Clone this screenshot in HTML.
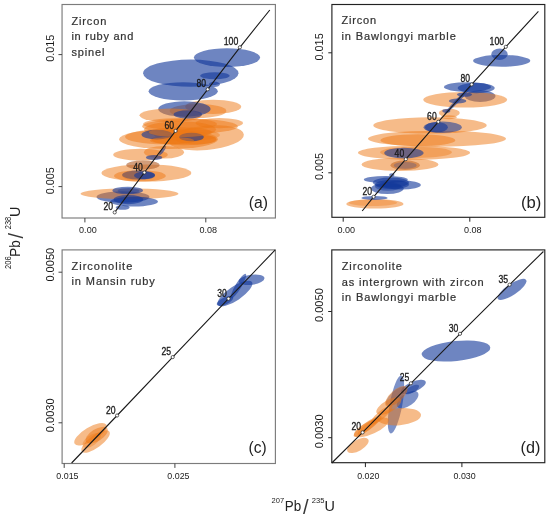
<!DOCTYPE html>
<html lang="en"><head><meta charset="utf-8"><title>Concordia diagrams</title>
<style>
html,body{margin:0;padding:0;background:#fff;}
svg{display:block;font-family:"Liberation Sans",sans-serif;}
</style></head><body>
<svg width="550" height="518" viewBox="0 0 550 518">
<rect x="0" y="0" width="550" height="518" fill="#fff"/>
<rect x="62.05" y="4.5" width="213.35" height="213.5" fill="none" stroke="#7c7c7c" stroke-width="1.15"/>
<line x1="58.449999999999996" y1="54.6" x2="62.05" y2="54.6" stroke="#444" stroke-width="1"/>
<text x="53.7" y="61.8" font-size="10.5" text-anchor="start" fill="#1a1a1a" textLength="27.2" lengthAdjust="spacingAndGlyphs" transform="rotate(-90 53.7 61.8)">0.015</text>
<line x1="58.449999999999996" y1="186.6" x2="62.05" y2="186.6" stroke="#444" stroke-width="1"/>
<text x="53.7" y="194.3" font-size="10.5" text-anchor="start" fill="#1a1a1a" textLength="27.2" lengthAdjust="spacingAndGlyphs" transform="rotate(-90 53.7 194.3)">0.005</text>
<line x1="84.9" y1="218.0" x2="84.9" y2="222.4" stroke="#444" stroke-width="1"/>
<text x="79.1" y="232.8" font-size="9.5" text-anchor="start" fill="#1a1a1a" textLength="17.6" lengthAdjust="spacingAndGlyphs">0.00</text>
<line x1="205.8" y1="218.0" x2="205.8" y2="222.4" stroke="#444" stroke-width="1"/>
<text x="199.5" y="232.8" font-size="9.5" text-anchor="start" fill="#1a1a1a" textLength="17.6" lengthAdjust="spacingAndGlyphs">0.08</text>
<ellipse cx="123" cy="197" rx="26.5" ry="5.7" fill="rgb(18,56,154)" fill-opacity="0.61"/>
<ellipse cx="129.5" cy="193.8" rx="48.9" ry="5.4" fill="rgb(238,120,20)" fill-opacity="0.5"/>
<ellipse cx="127.7" cy="190.5" rx="15.3" ry="3.8" fill="rgb(18,56,154)" fill-opacity="0.61"/>
<ellipse cx="128.5" cy="190.8" rx="11" ry="2.8" fill="rgb(18,56,154)" fill-opacity="0.35"/>
<ellipse cx="134.1" cy="201.6" rx="23.9" ry="4.9" fill="rgb(18,56,154)" fill-opacity="0.61"/>
<ellipse cx="128.4" cy="199.6" rx="14.8" ry="4.6" fill="rgb(18,56,154)" fill-opacity="0.61"/>
<ellipse cx="122.7" cy="207.5" rx="6.8" ry="2.3" fill="rgb(18,56,154)" fill-opacity="0.61"/>
<ellipse cx="146.4" cy="173" rx="45" ry="8.6" fill="rgb(238,120,20)" fill-opacity="0.5"/>
<ellipse cx="139.9" cy="175.9" rx="25.9" ry="5.7" fill="rgb(238,120,20)" fill-opacity="0.5"/>
<ellipse cx="142.9" cy="165" rx="16.6" ry="4.5" fill="rgb(18,56,154)" fill-opacity="0.3"/>
<ellipse cx="142.9" cy="165" rx="16.6" ry="4.5" fill="rgb(238,120,20)" fill-opacity="0.5"/>
<ellipse cx="138.6" cy="175" rx="16.4" ry="4.5" fill="rgb(18,56,154)" fill-opacity="0.61"/>
<ellipse cx="132" cy="175.5" rx="10" ry="4.5" fill="rgb(238,120,20)" fill-opacity="0.35"/>
<ellipse cx="144.5" cy="175.5" rx="10.5" ry="3.8" fill="rgb(18,56,154)" fill-opacity="0.61"/>
<ellipse cx="140.5" cy="154.7" rx="27.3" ry="5.9" fill="rgb(238,120,20)" fill-opacity="0.5"/>
<ellipse cx="164" cy="152.3" rx="20" ry="6.3" fill="rgb(238,120,20)" fill-opacity="0.5"/>
<ellipse cx="154.1" cy="157.5" rx="8.2" ry="2.5" fill="rgb(18,56,154)" fill-opacity="0.61"/>
<ellipse cx="162.6" cy="150.5" rx="5.5" ry="1.5" fill="rgb(18,56,154)" fill-opacity="0.61" transform="rotate(-55 162.6 150.5)"/>
<ellipse cx="168.5" cy="139.3" rx="49.3" ry="9.8" fill="rgb(238,120,20)" fill-opacity="0.5"/>
<ellipse cx="206" cy="137.8" rx="38" ry="12.2" fill="rgb(238,120,20)" fill-opacity="0.5" transform="rotate(-5 206 137.8)"/>
<ellipse cx="165" cy="136.8" rx="40" ry="7.5" fill="rgb(238,120,20)" fill-opacity="0.5"/>
<ellipse cx="190" cy="126.3" rx="48" ry="7.5" fill="rgb(238,120,20)" fill-opacity="0.5"/>
<ellipse cx="196" cy="139.4" rx="20" ry="5" fill="rgb(238,120,20)" fill-opacity="0.5"/>
<ellipse cx="219.3" cy="123.1" rx="23.8" ry="5.1" fill="rgb(238,120,20)" fill-opacity="0.5"/>
<ellipse cx="213.2" cy="106.8" rx="28" ry="7.1" fill="rgb(238,120,20)" fill-opacity="0.5"/>
<ellipse cx="198" cy="111" rx="28.4" ry="7" fill="rgb(238,120,20)" fill-opacity="0.5"/>
<ellipse cx="180" cy="124" rx="37" ry="6" fill="rgb(238,120,20)" fill-opacity="0.5"/>
<ellipse cx="180" cy="129.5" rx="36" ry="8" fill="rgb(238,120,20)" fill-opacity="0.5"/>
<ellipse cx="187" cy="135" rx="33" ry="6" fill="rgb(238,120,20)" fill-opacity="0.4"/>
<ellipse cx="184.4" cy="109" rx="26.2" ry="7.7" fill="rgb(18,56,154)" fill-opacity="0.61"/>
<ellipse cx="184.1" cy="139.5" rx="32.7" ry="5.7" fill="rgb(238,120,20)" fill-opacity="0.5"/>
<ellipse cx="157" cy="134.6" rx="15.5" ry="4.9" fill="rgb(18,56,154)" fill-opacity="0.61"/>
<ellipse cx="191.5" cy="137.0" rx="12.3" ry="4.3" fill="rgb(18,56,154)" fill-opacity="0.61"/>
<ellipse cx="170.5" cy="115.3" rx="31" ry="6.8" fill="rgb(238,120,20)" fill-opacity="0.5"/>
<ellipse cx="187.8" cy="114.4" rx="14.2" ry="4.1" fill="rgb(18,56,154)" fill-opacity="0.61"/>
<ellipse cx="180.3" cy="132.2" rx="31.5" ry="4.9" fill="rgb(238,120,20)" fill-opacity="0.5"/>
<ellipse cx="172" cy="140.5" rx="22" ry="3.6" fill="rgb(238,120,20)" fill-opacity="0.5"/>
<ellipse cx="227" cy="57.6" rx="33.1" ry="9.4" fill="rgb(18,56,154)" fill-opacity="0.61"/>
<ellipse cx="190.8" cy="73.2" rx="47.7" ry="13.6" fill="rgb(18,56,154)" fill-opacity="0.61"/>
<ellipse cx="214.9" cy="75.8" rx="14.7" ry="3.5" fill="rgb(18,56,154)" fill-opacity="0.61"/>
<ellipse cx="183.2" cy="91.3" rx="34.6" ry="9.1" fill="rgb(18,56,154)" fill-opacity="0.61"/>
<ellipse cx="214.4" cy="84.3" rx="5.5" ry="2.7" fill="rgb(18,56,154)" fill-opacity="0.61"/>
<polyline points="114.7,212.4 144.4,172.5 175.6,130.9 207.7,89.3 239.9,47.3 269.8,10" fill="none" stroke="#1a1a1a" stroke-width="1.1"/>
<circle cx="114.7" cy="212.4" r="1.6" fill="#fff" stroke="#2a2a2a" stroke-width="0.75"/>
<circle cx="144.4" cy="172.5" r="1.6" fill="#fff" stroke="#2a2a2a" stroke-width="0.75"/>
<circle cx="175.6" cy="130.9" r="1.6" fill="#fff" stroke="#2a2a2a" stroke-width="0.75"/>
<circle cx="207.7" cy="89.3" r="1.6" fill="#fff" stroke="#2a2a2a" stroke-width="0.75"/>
<circle cx="239.9" cy="47.3" r="1.6" fill="#fff" stroke="#2a2a2a" stroke-width="0.75"/>
<text x="113.10000000000001" y="210.4" font-size="10.3" text-anchor="end" fill="#1a1a1a" textLength="9.6" lengthAdjust="spacingAndGlyphs" stroke="#1a1a1a" stroke-width="0.32">20</text>
<text x="142.8" y="170.5" font-size="10.3" text-anchor="end" fill="#1a1a1a" textLength="9.6" lengthAdjust="spacingAndGlyphs" stroke="#1a1a1a" stroke-width="0.32">40</text>
<text x="174.0" y="128.9" font-size="10.3" text-anchor="end" fill="#1a1a1a" textLength="9.6" lengthAdjust="spacingAndGlyphs" stroke="#1a1a1a" stroke-width="0.32">60</text>
<text x="206.1" y="87.3" font-size="10.3" text-anchor="end" fill="#1a1a1a" textLength="9.6" lengthAdjust="spacingAndGlyphs" stroke="#1a1a1a" stroke-width="0.32">80</text>
<text x="238.3" y="45.3" font-size="10.3" text-anchor="end" fill="#1a1a1a" textLength="14.6" lengthAdjust="spacingAndGlyphs" stroke="#1a1a1a" stroke-width="0.32">100</text>
<text x="71.4" y="24.5" font-size="11" text-anchor="start" fill="#333" textLength="34.9" lengthAdjust="spacing" stroke="#333" stroke-width="0.22">Zircon</text>
<text x="71.4" y="40.1" font-size="11" text-anchor="start" fill="#333" textLength="61.9" lengthAdjust="spacing" stroke="#333" stroke-width="0.22">in ruby and</text>
<text x="71.4" y="55.8" font-size="11" text-anchor="start" fill="#333" textLength="33" lengthAdjust="spacing" stroke="#333" stroke-width="0.22">spinel</text>
<text x="248.8" y="208.1" font-size="16" text-anchor="start" fill="#222" textLength="19.2" lengthAdjust="spacingAndGlyphs">(a)</text>
<rect x="331.9" y="4.5" width="212.9" height="212.8" fill="none" stroke="#222" stroke-width="1.15"/>
<line x1="328.29999999999995" y1="52.8" x2="331.9" y2="52.8" stroke="#222" stroke-width="1"/>
<text x="323.3" y="60.5" font-size="10.5" text-anchor="start" fill="#1a1a1a" textLength="27.2" lengthAdjust="spacingAndGlyphs" transform="rotate(-90 323.3 60.5)">0.015</text>
<line x1="328.29999999999995" y1="172.8" x2="331.9" y2="172.8" stroke="#222" stroke-width="1"/>
<text x="323.3" y="180.1" font-size="10.5" text-anchor="start" fill="#1a1a1a" textLength="27.2" lengthAdjust="spacingAndGlyphs" transform="rotate(-90 323.3 180.1)">0.005</text>
<line x1="343.2" y1="217.3" x2="343.2" y2="221.70000000000002" stroke="#222" stroke-width="1"/>
<text x="337.5" y="232.7" font-size="9.5" text-anchor="start" fill="#1a1a1a" textLength="17.6" lengthAdjust="spacingAndGlyphs">0.00</text>
<line x1="469.8" y1="217.3" x2="469.8" y2="221.70000000000002" stroke="#222" stroke-width="1"/>
<text x="463.9" y="232.7" font-size="9.5" text-anchor="start" fill="#1a1a1a" textLength="17.6" lengthAdjust="spacingAndGlyphs">0.08</text>
<ellipse cx="374.9" cy="203.9" rx="28.6" ry="4.7" fill="rgb(238,120,20)" fill-opacity="0.5"/>
<ellipse cx="373" cy="202.8" rx="24" ry="3.2" fill="rgb(238,120,20)" fill-opacity="0.35"/>
<ellipse cx="405.2" cy="165.2" rx="14.6" ry="4.7" fill="rgb(18,56,154)" fill-opacity="0.35"/>
<ellipse cx="400" cy="164.4" rx="38.5" ry="6.5" fill="rgb(238,120,20)" fill-opacity="0.5"/>
<ellipse cx="414" cy="152.7" rx="56" ry="7" fill="rgb(238,120,20)" fill-opacity="0.5"/>
<ellipse cx="416" cy="152.3" rx="36" ry="5.6" fill="rgb(238,120,20)" fill-opacity="0.4"/>
<ellipse cx="437" cy="138.7" rx="69" ry="8.0" fill="rgb(238,120,20)" fill-opacity="0.5"/>
<ellipse cx="417.9" cy="140.3" rx="37.5" ry="6" fill="rgb(238,120,20)" fill-opacity="0.5"/>
<ellipse cx="430" cy="125.4" rx="56.7" ry="8.1" fill="rgb(238,120,20)" fill-opacity="0.5"/>
<ellipse cx="405.2" cy="165.2" rx="14.6" ry="4.7" fill="rgb(238,120,20)" fill-opacity="0.4"/>
<ellipse cx="405.2" cy="165.4" rx="11.5" ry="3.4" fill="rgb(18,56,154)" fill-opacity="0.25"/>
<ellipse cx="403.9" cy="153.1" rx="19.7" ry="5.3" fill="rgb(18,56,154)" fill-opacity="0.6"/>
<ellipse cx="442.7" cy="127.3" rx="19.1" ry="5.7" fill="rgb(18,56,154)" fill-opacity="0.55"/>
<ellipse cx="436.4" cy="127.3" rx="11.5" ry="5.2" fill="rgb(18,56,154)" fill-opacity="0.61"/>
<ellipse cx="385.8" cy="179.5" rx="22" ry="3.6" fill="rgb(18,56,154)" fill-opacity="0.61"/>
<ellipse cx="401.3" cy="185" rx="19.5" ry="4.5" fill="rgb(18,56,154)" fill-opacity="0.61"/>
<ellipse cx="390.9" cy="182.6" rx="18" ry="5" fill="rgb(18,56,154)" fill-opacity="0.61"/>
<ellipse cx="387.3" cy="188.6" rx="16.4" ry="5.5" fill="rgb(18,56,154)" fill-opacity="0.61"/>
<ellipse cx="392" cy="184.5" rx="17" ry="4.6" fill="rgb(18,56,154)" fill-opacity="0.61"/>
<ellipse cx="388" cy="186.5" rx="13" ry="4.2" fill="rgb(18,56,154)" fill-opacity="0.5"/>
<ellipse cx="374.5" cy="197.9" rx="13" ry="2" fill="rgb(18,56,154)" fill-opacity="0.61"/>
<ellipse cx="391.8" cy="175" rx="2.7" ry="1.8" fill="rgb(18,56,154)" fill-opacity="0.61"/>
<ellipse cx="480.2" cy="96.1" rx="15.3" ry="5.8" fill="rgb(18,56,154)" fill-opacity="0.61"/>
<ellipse cx="465.2" cy="99.7" rx="42" ry="7.8" fill="rgb(238,120,20)" fill-opacity="0.5"/>
<ellipse cx="449.3" cy="113" rx="10.5" ry="4.2" fill="rgb(238,120,20)" fill-opacity="0.5"/>
<ellipse cx="448.9" cy="117.2" rx="8" ry="2" fill="rgb(238,120,20)" fill-opacity="0.5"/>
<ellipse cx="467.5" cy="87" rx="23.6" ry="4.8" fill="rgb(18,56,154)" fill-opacity="0.61"/>
<ellipse cx="476.2" cy="88.1" rx="18.5" ry="5.1" fill="rgb(18,56,154)" fill-opacity="0.61"/>
<ellipse cx="457.6" cy="100.9" rx="8.7" ry="2.5" fill="rgb(18,56,154)" fill-opacity="0.61"/>
<ellipse cx="464.5" cy="94.6" rx="7.6" ry="2.2" fill="rgb(18,56,154)" fill-opacity="0.61"/>
<ellipse cx="446.3" cy="110.9" rx="4" ry="1.8" fill="rgb(18,56,154)" fill-opacity="0.61"/>
<ellipse cx="457.6" cy="100.5" rx="19" ry="1.8" fill="rgb(18,56,154)" fill-opacity="0.61" transform="rotate(-46.5 457.6 100.5)"/>
<ellipse cx="501.7" cy="60.8" rx="28.6" ry="5.9" fill="rgb(18,56,154)" fill-opacity="0.61"/>
<ellipse cx="499.5" cy="54.3" rx="8.2" ry="5.7" fill="rgb(18,56,154)" fill-opacity="0.61"/>
<polyline points="362.2,211 373.6,196.8 405.8,159.2 438.3,121.8 471.7,84.4 505.8,46.8 538.4,11.4" fill="none" stroke="#1a1a1a" stroke-width="1.1"/>
<circle cx="373.6" cy="196.8" r="1.6" fill="#fff" stroke="#2a2a2a" stroke-width="0.75"/>
<circle cx="405.8" cy="159.2" r="1.6" fill="#fff" stroke="#2a2a2a" stroke-width="0.75"/>
<circle cx="438.3" cy="121.8" r="1.6" fill="#fff" stroke="#2a2a2a" stroke-width="0.75"/>
<circle cx="471.7" cy="84.4" r="1.6" fill="#fff" stroke="#2a2a2a" stroke-width="0.75"/>
<circle cx="505.8" cy="46.8" r="1.6" fill="#fff" stroke="#2a2a2a" stroke-width="0.75"/>
<text x="372.0" y="194.8" font-size="10.3" text-anchor="end" fill="#1a1a1a" textLength="9.6" lengthAdjust="spacingAndGlyphs" stroke="#1a1a1a" stroke-width="0.32">20</text>
<text x="404.2" y="157.2" font-size="10.3" text-anchor="end" fill="#1a1a1a" textLength="9.6" lengthAdjust="spacingAndGlyphs" stroke="#1a1a1a" stroke-width="0.32">40</text>
<text x="436.7" y="119.8" font-size="10.3" text-anchor="end" fill="#1a1a1a" textLength="9.6" lengthAdjust="spacingAndGlyphs" stroke="#1a1a1a" stroke-width="0.32">60</text>
<text x="470.09999999999997" y="82.4" font-size="10.3" text-anchor="end" fill="#1a1a1a" textLength="9.6" lengthAdjust="spacingAndGlyphs" stroke="#1a1a1a" stroke-width="0.32">80</text>
<text x="504.2" y="44.8" font-size="10.3" text-anchor="end" fill="#1a1a1a" textLength="14.6" lengthAdjust="spacingAndGlyphs" stroke="#1a1a1a" stroke-width="0.32">100</text>
<text x="341.5" y="24.4" font-size="11" text-anchor="start" fill="#333" textLength="34.5" lengthAdjust="spacing" stroke="#333" stroke-width="0.22">Zircon</text>
<text x="341.5" y="40.2" font-size="11" text-anchor="start" fill="#333" textLength="114.3" lengthAdjust="spacing" stroke="#333" stroke-width="0.22">in Bawlongyi marble</text>
<text x="521" y="208.1" font-size="16" text-anchor="start" fill="#222" textLength="20.3" lengthAdjust="spacingAndGlyphs">(b)</text>
<rect x="62.1" y="249.9" width="213.3" height="213.6" fill="none" stroke="#7c7c7c" stroke-width="1.15"/>
<line x1="58.5" y1="272.2" x2="62.1" y2="272.2" stroke="#444" stroke-width="1"/>
<text x="53.8" y="281.6" font-size="10.5" text-anchor="start" fill="#1a1a1a" textLength="33.8" lengthAdjust="spacingAndGlyphs" transform="rotate(-90 53.8 281.6)">0.0050</text>
<line x1="58.5" y1="422.8" x2="62.1" y2="422.8" stroke="#444" stroke-width="1"/>
<text x="53.8" y="432.2" font-size="10.5" text-anchor="start" fill="#1a1a1a" textLength="33.8" lengthAdjust="spacingAndGlyphs" transform="rotate(-90 53.8 432.2)">0.0030</text>
<line x1="64.2" y1="463.5" x2="64.2" y2="467.9" stroke="#444" stroke-width="1"/>
<text x="56.3" y="479" font-size="9.5" text-anchor="start" fill="#1a1a1a" textLength="22.2" lengthAdjust="spacingAndGlyphs">0.015</text>
<line x1="174.9" y1="463.5" x2="174.9" y2="467.9" stroke="#444" stroke-width="1"/>
<text x="167.3" y="479" font-size="9.5" text-anchor="start" fill="#1a1a1a" textLength="22.2" lengthAdjust="spacingAndGlyphs">0.025</text>
<ellipse cx="234.9" cy="293.6" rx="20.6" ry="7" fill="rgb(18,56,154)" fill-opacity="0.61" transform="rotate(-34 234.9 293.6)"/>
<ellipse cx="251.6" cy="279.8" rx="13" ry="5" fill="rgb(18,56,154)" fill-opacity="0.61" transform="rotate(-8 251.6 279.8)"/>
<ellipse cx="238.5" cy="285.9" rx="14" ry="3" fill="rgb(18,56,154)" fill-opacity="0.61" transform="rotate(-59 238.5 285.9)"/>
<ellipse cx="225" cy="301" rx="9" ry="3.5" fill="rgb(18,56,154)" fill-opacity="0.61" transform="rotate(-25 225 301)"/>
<ellipse cx="90.5" cy="434.2" rx="18.5" ry="7" fill="rgb(238,120,20)" fill-opacity="0.5" transform="rotate(-31 90.5 434.2)"/>
<ellipse cx="95.6" cy="441.5" rx="17" ry="6.3" fill="rgb(238,120,20)" fill-opacity="0.5" transform="rotate(-36 95.6 441.5)"/>
<ellipse cx="96.7" cy="435.2" rx="12.5" ry="6" fill="rgb(238,120,20)" fill-opacity="0.5" transform="rotate(-32 96.7 435.2)"/>
<ellipse cx="91.5" cy="440.5" rx="10.5" ry="5.2" fill="rgb(238,120,20)" fill-opacity="0.35" transform="rotate(-35 91.5 440.5)"/>
<polyline points="71.6,463 117.1,415.5 172.7,357.1 228.5,298.7 275.2,249.9" fill="none" stroke="#1a1a1a" stroke-width="1.1"/>
<circle cx="117.1" cy="415.5" r="1.6" fill="#fff" stroke="#2a2a2a" stroke-width="0.75"/>
<circle cx="172.7" cy="357.1" r="1.6" fill="#fff" stroke="#2a2a2a" stroke-width="0.75"/>
<circle cx="228.5" cy="298.7" r="1.6" fill="#fff" stroke="#2a2a2a" stroke-width="0.75"/>
<text x="115.5" y="413.5" font-size="10.3" text-anchor="end" fill="#1a1a1a" textLength="9.6" lengthAdjust="spacingAndGlyphs" stroke="#1a1a1a" stroke-width="0.32">20</text>
<text x="171.1" y="355.1" font-size="10.3" text-anchor="end" fill="#1a1a1a" textLength="9.6" lengthAdjust="spacingAndGlyphs" stroke="#1a1a1a" stroke-width="0.32">25</text>
<text x="226.9" y="296.7" font-size="10.3" text-anchor="end" fill="#1a1a1a" textLength="9.6" lengthAdjust="spacingAndGlyphs" stroke="#1a1a1a" stroke-width="0.32">30</text>
<text x="71.5" y="269.5" font-size="11" text-anchor="start" fill="#333" textLength="60.8" lengthAdjust="spacing" stroke="#333" stroke-width="0.22">Zirconolite</text>
<text x="71.5" y="285.2" font-size="11" text-anchor="start" fill="#333" textLength="83.3" lengthAdjust="spacing" stroke="#333" stroke-width="0.22">in Mansin ruby</text>
<text x="248.6" y="453.1" font-size="16" text-anchor="start" fill="#222" textLength="18.1" lengthAdjust="spacingAndGlyphs">(c)</text>
<rect x="331.8" y="249.9" width="213.0" height="212.8" fill="none" stroke="#222" stroke-width="1.15"/>
<line x1="328.2" y1="311.5" x2="331.8" y2="311.5" stroke="#222" stroke-width="1"/>
<text x="323.3" y="322.0" font-size="10.5" text-anchor="start" fill="#1a1a1a" textLength="33.8" lengthAdjust="spacingAndGlyphs" transform="rotate(-90 323.3 322.0)">0.0050</text>
<line x1="328.2" y1="437.7" x2="331.8" y2="437.7" stroke="#222" stroke-width="1"/>
<text x="323.3" y="448.2" font-size="10.5" text-anchor="start" fill="#1a1a1a" textLength="33.8" lengthAdjust="spacingAndGlyphs" transform="rotate(-90 323.3 448.2)">0.0030</text>
<line x1="365.4" y1="462.7" x2="365.4" y2="467.09999999999997" stroke="#222" stroke-width="1"/>
<text x="357.2" y="479" font-size="9.5" text-anchor="start" fill="#1a1a1a" textLength="22.2" lengthAdjust="spacingAndGlyphs">0.020</text>
<line x1="461.9" y1="462.7" x2="461.9" y2="467.09999999999997" stroke="#222" stroke-width="1"/>
<text x="453.5" y="479" font-size="9.5" text-anchor="start" fill="#1a1a1a" textLength="22.2" lengthAdjust="spacingAndGlyphs">0.030</text>
<ellipse cx="396" cy="404.5" rx="29.4" ry="6.3" fill="rgb(18,56,154)" fill-opacity="0.55" transform="rotate(-79.5 396 404.5)"/>
<ellipse cx="413.3" cy="386.9" rx="13.5" ry="5" fill="rgb(18,56,154)" fill-opacity="0.61" transform="rotate(-24 413.3 386.9)"/>
<ellipse cx="407.6" cy="399.7" rx="12.5" ry="6.3" fill="rgb(18,56,154)" fill-opacity="0.55" transform="rotate(-35 407.6 399.7)"/>
<ellipse cx="396.3" cy="396.3" rx="13" ry="5.5" fill="rgb(18,56,154)" fill-opacity="0.4" transform="rotate(-42 396.3 396.3)"/>
<ellipse cx="412" cy="389.5" rx="8" ry="3.2" fill="rgb(18,56,154)" fill-opacity="0.5" transform="rotate(-30 412 389.5)"/>
<ellipse cx="399.1" cy="416.7" rx="22" ry="8.5" fill="rgb(238,120,20)" fill-opacity="0.5" transform="rotate(-5 399.1 416.7)"/>
<ellipse cx="388.8" cy="406.1" rx="14" ry="6" fill="rgb(238,120,20)" fill-opacity="0.5" transform="rotate(-30 388.8 406.1)"/>
<ellipse cx="396.3" cy="396.3" rx="14" ry="6" fill="rgb(238,120,20)" fill-opacity="0.5" transform="rotate(-42 396.3 396.3)"/>
<ellipse cx="371.4" cy="427.4" rx="19" ry="6.5" fill="rgb(238,120,20)" fill-opacity="0.5" transform="rotate(-25 371.4 427.4)"/>
<ellipse cx="357.9" cy="445.4" rx="12" ry="5.5" fill="rgb(238,120,20)" fill-opacity="0.5" transform="rotate(-30 357.9 445.4)"/>
<ellipse cx="367.6" cy="426.3" rx="17" ry="4" fill="rgb(238,120,20)" fill-opacity="0.5" transform="rotate(-36 367.6 426.3)"/>
<ellipse cx="381.4" cy="415" rx="14" ry="4" fill="rgb(238,120,20)" fill-opacity="0.5" transform="rotate(-40 381.4 415)"/>
<ellipse cx="368" cy="426.5" rx="13" ry="3.2" fill="rgb(238,120,20)" fill-opacity="0.45" transform="rotate(-38 368 426.5)"/>
<ellipse cx="512" cy="289.4" rx="17" ry="5.5" fill="rgb(18,56,154)" fill-opacity="0.61" transform="rotate(-34 512 289.4)"/>
<ellipse cx="456" cy="351" rx="34.5" ry="10" fill="rgb(18,56,154)" fill-opacity="0.61" transform="rotate(-6 456 351)"/>
<polyline points="331.8,463 362.6,432.4 410.9,383.3 460,333.8 509.6,284.7 543.4,251.5" fill="none" stroke="#1a1a1a" stroke-width="1.1"/>
<circle cx="362.6" cy="432.4" r="1.6" fill="#fff" stroke="#2a2a2a" stroke-width="0.75"/>
<circle cx="410.9" cy="383.3" r="1.6" fill="#fff" stroke="#2a2a2a" stroke-width="0.75"/>
<circle cx="460" cy="333.8" r="1.6" fill="#fff" stroke="#2a2a2a" stroke-width="0.75"/>
<circle cx="509.6" cy="284.7" r="1.6" fill="#fff" stroke="#2a2a2a" stroke-width="0.75"/>
<text x="361.0" y="430.4" font-size="10.3" text-anchor="end" fill="#1a1a1a" textLength="9.6" lengthAdjust="spacingAndGlyphs" stroke="#1a1a1a" stroke-width="0.32">20</text>
<text x="409.29999999999995" y="381.3" font-size="10.3" text-anchor="end" fill="#1a1a1a" textLength="9.6" lengthAdjust="spacingAndGlyphs" stroke="#1a1a1a" stroke-width="0.32">25</text>
<text x="458.4" y="331.8" font-size="10.3" text-anchor="end" fill="#1a1a1a" textLength="9.6" lengthAdjust="spacingAndGlyphs" stroke="#1a1a1a" stroke-width="0.32">30</text>
<text x="508.0" y="282.7" font-size="10.3" text-anchor="end" fill="#1a1a1a" textLength="9.6" lengthAdjust="spacingAndGlyphs" stroke="#1a1a1a" stroke-width="0.32">35</text>
<text x="341.7" y="269.5" font-size="11" text-anchor="start" fill="#333" textLength="60.2" lengthAdjust="spacing" stroke="#333" stroke-width="0.22">Zirconolite</text>
<text x="341.7" y="285.7" font-size="11" text-anchor="start" fill="#333" textLength="142" lengthAdjust="spacing" stroke="#333" stroke-width="0.22">as intergrown with zircon</text>
<text x="341.7" y="301.4" font-size="11" text-anchor="start" fill="#333" textLength="114.3" lengthAdjust="spacing" stroke="#333" stroke-width="0.22">in Bawlongyi marble</text>
<text x="520.6" y="453.1" font-size="16" text-anchor="start" fill="#222" textLength="19.8" lengthAdjust="spacingAndGlyphs">(d)</text>
<g transform="translate(271.6,510.9)">
<text x="0" y="-7.6" font-size="7.7" fill="#222" textLength="12.6" lengthAdjust="spacingAndGlyphs">207</text>
<text x="13.2" y="0" font-size="14" fill="#222" textLength="16.4" lengthAdjust="spacingAndGlyphs">Pb</text>
<text x="31.4" y="3.2" font-size="20" fill="#383838">/</text>
<text x="40.2" y="-7.6" font-size="7.7" fill="#222" textLength="12.6" lengthAdjust="spacingAndGlyphs">235</text>
<text x="53.0" y="0" font-size="14" fill="#222" textLength="10.4" lengthAdjust="spacingAndGlyphs">U</text>
</g>
<g transform="translate(20.1,268.9) rotate(-90)">
<text x="0" y="-8.9" font-size="8.2" fill="#222" textLength="12.6" lengthAdjust="spacingAndGlyphs">206</text>
<text x="12.2" y="0" font-size="15" fill="#222" textLength="16.4" lengthAdjust="spacingAndGlyphs">Pb</text>
<text x="30.4" y="3.2" font-size="20" fill="#383838">/</text>
<text x="39.6" y="-8.9" font-size="8.2" fill="#222" textLength="12.6" lengthAdjust="spacingAndGlyphs">238</text>
<text x="51.8" y="0" font-size="15" fill="#222" textLength="10.4" lengthAdjust="spacingAndGlyphs">U</text>
</g>
</svg>
</body></html>
